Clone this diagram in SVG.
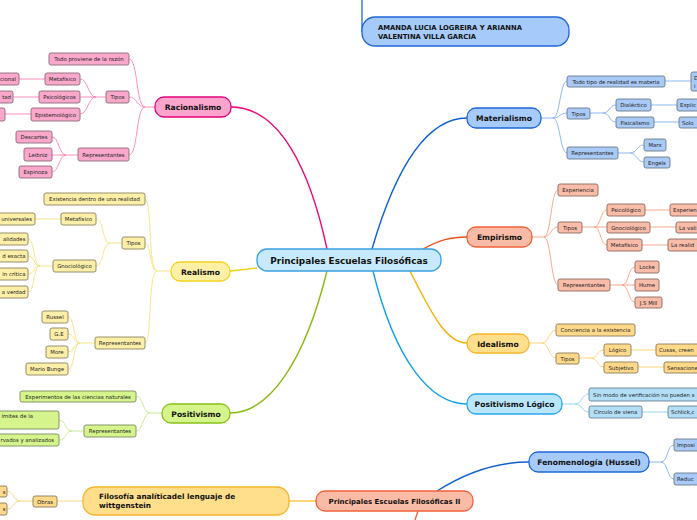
<svg xmlns="http://www.w3.org/2000/svg" width="697" height="520" viewBox="0 0 697 520">
<style>
text{font-family:"DejaVu Sans","Liberation Sans",sans-serif;fill:#222}
.s{font-size:5.4px;text-anchor:middle}
.se{font-size:5.4px;text-anchor:end}
.ss{font-size:5.4px;text-anchor:start}
.m{font-size:7.6px;font-weight:bold;text-anchor:middle;fill:#111}
.sn{stroke-width:0.9}
.mn{stroke-width:1.3}
.c path{fill:none}
.pk{fill:#f9a8cc;stroke:#8a6a78}
.yl{fill:#fdefa8;stroke:#8a8460}
.gr{fill:#d6f48c;stroke:#7a8a60}
.or{fill:#ffd98a;stroke:#8a7a5a}
.sa{fill:#f8bca8;stroke:#8a6a60}
.bl{fill:#a9c9f6;stroke:#6a7a8a}
.lb{fill:#b3def7;stroke:#6a8090}
.lpk{stroke:#ff80b8;stroke-width:0.9}
.lyl{stroke:#f6e27a;stroke-width:0.9}
.lgr{stroke:#c4e88a;stroke-width:0.9}
.lor{stroke:#ffd070;stroke-width:0.9}
.lsa{stroke:#f8a080;stroke-width:0.9}
.lbl{stroke:#80aef0;stroke-width:0.9}
.llb{stroke:#8ccdf0;stroke-width:0.9}
</style>
<rect width="697" height="520" fill="#ffffff"/>
<g id="connectors" class="c">
<path d="M362,0 L362,32" stroke="#1f66d6" stroke-width="1.3"/>
<path d="M327,249 C310,170 280,107 231,107" stroke="#ee0a78" stroke-width="1.4"/>
<path d="M372,249 C395,170 425,118 467,118" stroke="#1060d0" stroke-width="1.4"/>
<path d="M423,249 C440,240 450,237 467,237" stroke="#f05020" stroke-width="1.4"/>
<path d="M257,268 L230,271" stroke="#f0d000" stroke-width="1.4"/>
<path d="M327,271 C305,360 270,413 230,413" stroke="#88bb10" stroke-width="1.4"/>
<path d="M373,271 C395,360 430,404 467,404" stroke="#10a0f0" stroke-width="1.4"/>
<path d="M410,271 C430,310 445,343 467,343" stroke="#f8b000" stroke-width="1.4"/>
<path d="M289,501 L316,501" stroke="#f8c030" stroke-width="1.3"/>
<path d="M418,511 L415,520" stroke="#f06030" stroke-width="1.3"/>
<path d="M437,491 C470,470 500,462 529,462" stroke="#1060d0" stroke-width="1.4"/>
<!-- Racionalismo -->
<path class="lpk" d="M155,107 L145,107 C136,107 138,59 129,59 M145,107 C137,107 137,97 129,97 M145,107 C136,107 138,155 129,155"/>
<path class="lpk" d="M106,97 L96,97 C88,97 88,79 80,79 M96,97 L80,97 M96,97 C88,97 88,114 80,114"/>
<path class="lpk" d="M45,79 L19,79 M39,97 L13,97 M31,114 L5,114"/>
<path class="lpk" d="M78,155 L66,155 C59,155 59,137 52,137 M66,155 L52,155 M66,155 C59,155 59,172 52,172"/>
<!-- Realismo -->
<path class="lyl" d="M171,271 L157,271 C148,271 152,199 145,199 M157,271 C150,271 151,243 145,243 M157,271 C148,271 152,343 145,343"/>
<path class="lyl" d="M122,243 L110,243 C102,243 104,219 96,219 M110,243 C102,243 104,266 96,266"/>
<path class="lyl" d="M61,219 L35,219"/>
<path class="lyl" d="M53,266 L40,266 C33,266 35,239 28,239 M40,266 C33,266 35,256 28,256 M40,266 C33,266 35,274 28,274 M40,266 C33,266 35,292 28,292"/>
<path class="lyl" d="M95,343 L80,343 C73,343 75,317 68,317 M80,343 C73,343 75,334 68,334 M80,343 C73,343 75,352 68,352 M80,343 C73,343 75,369 68,369"/>
<!-- Positivismo -->
<path class="lgr" d="M162,413 L150,413 C143,413 143,396 136,396 M150,413 C143,413 143,431 136,431"/>
<path class="lgr" d="M84,431 L72,431 C65,431 66,420 59,420 M72,431 C65,431 66,440 59,440"/>
<!-- Filosofia -->
<path class="lor" d="M83,501 L57,501 M33,501 L20,501 C13,501 14,491 7,491 M20,501 C13,501 14,509 7,509"/>
<!-- Materialismo -->
<path class="lbl" d="M541,118 L553,118 C560,118 560,81 567,81 M553,118 C560,118 560,113 567,113 M553,118 C560,118 560,153 567,153"/>
<path class="lbl" d="M590,113 L603,113 C610,113 609,105 616,105 M603,113 C610,113 609,122 616,122"/>
<path class="lbl" d="M665,81 L691,81 M651,105 L677,105 M654,122 L679,122"/>
<path class="lbl" d="M618,153 L630,153 C637,153 637,145 644,145 M630,153 C637,153 637,162 644,162"/>
<!-- Empirismo -->
<path class="lsa" d="M532,237 L544,237 C551,237 551,190 558,190 M544,237 C551,237 551,227 558,227 M544,237 C551,237 551,285 558,285"/>
<path class="lsa" d="M582,227 L594,227 C601,227 600,210 607,210 M594,227 L607,227 M594,227 C601,227 600,245 607,245"/>
<path class="lsa" d="M645,210 L670,210 M650,227 L676,227 M642,245 L668,245"/>
<path class="lsa" d="M610,285 L622,285 C629,285 628,267 635,267 M622,285 L635,285 M622,285 C629,285 628,302 635,302"/>
<!-- Idealismo -->
<path class="lor" d="M529,343 L542,343 C549,343 549,330 556,330 M542,343 C549,343 549,358 556,358"/>
<path class="lor" d="M579,358 L591,358 C598,358 597,350 604,350 M591,358 C598,358 597,367 604,367"/>
<path class="lor" d="M631,350 L656,350 M638,367 L664,367"/>
<!-- Positivismo Logico -->
<path class="llb" d="M562,404 L575,404 C582,404 582,394 589,394 M575,404 C582,404 582,412 589,412"/>
<path class="llb" d="M642,412 L668,412"/>
<!-- Fenomenologia -->
<path class="lbl" d="M649,462 L661,462 C668,462 667,445 674,445 M661,462 C668,462 667,479 674,479"/>
</g>

<g id="center">
<rect x="257" y="249" width="184" height="22" rx="10" fill="#c6eafb" stroke="#3a9ee0" stroke-width="1.3"/>
<text x="349" y="263.5" class="m" style="font-size:8.9px">Principales Escuelas Filosóficas</text>
</g>

<g id="autores">
<rect x="362" y="17" width="207" height="29" rx="13" fill="#a6cbfa" stroke="#1f66d6" stroke-width="1.3"/>
<text x="378" y="30" style="font-size:6.8px;font-weight:bold;fill:#111">AMANDA LUCIA LOGREIRA Y ARIANNA</text>
<text x="378" y="39" style="font-size:6.8px;font-weight:bold;fill:#111">VALENTINA VILLA GARCIA</text>
</g>

<g id="racionalismo">
<rect x="155" y="97" width="76" height="20" rx="9" fill="#fba5cc" stroke="#e6007e" stroke-width="1.3"/>
<text x="193" y="110" class="m">Racionalismo</text>
</g>
<g id="rac-todo"><rect class="pk sn" x="49" y="53" width="80" height="12" rx="2"/><text class="s" x="89" y="61">Todo proviene de la razón</text></g>
<g id="rac-tipos"><rect class="pk sn" x="106" y="91" width="23" height="12" rx="2"/><text class="s" x="117.5" y="99">Tipos</text></g>
<g id="rac-rep"><rect class="pk sn" x="78" y="148" width="51" height="13" rx="2"/><text class="s" x="103.5" y="156.5">Representantes</text></g>
<g id="rac-met"><rect class="pk sn" x="45" y="73" width="35" height="12" rx="2"/><text class="s" x="62.5" y="81">Metafísico</text></g>
<g id="rac-psi"><rect class="pk sn" x="39" y="91" width="41" height="12" rx="2"/><text class="s" x="59.5" y="99">Psicológicos</text></g>
<g id="rac-epi"><rect class="pk sn" x="31" y="108" width="49" height="13" rx="2"/><text class="s" x="55.5" y="116.5">Epistemológico</text></g>
<g id="rac-met-c"><rect class="pk sn" x="-20" y="73" width="39" height="12" rx="2"/><text class="se" x="16" y="81">cional</text></g>
<g id="rac-psi-c"><rect class="pk sn" x="-20" y="91" width="33" height="12" rx="2"/><text class="se" x="11" y="99">tad</text></g>
<g id="rac-epi-c"><rect class="pk sn" x="-20" y="108" width="25" height="13" rx="2"/></g>
<g id="rac-desc"><rect class="pk sn" x="16" y="131" width="36" height="12" rx="2"/><text class="s" x="34" y="139">Descartes</text></g>
<g id="rac-leib"><rect class="pk sn" x="24" y="148" width="28" height="13" rx="2"/><text class="s" x="38" y="156.5">Leibniz</text></g>
<g id="rac-esp"><rect class="pk sn" x="19" y="166" width="33" height="12" rx="2"/><text class="s" x="35.5" y="174">Espinoza</text></g>

<g id="realismo">
<rect x="171" y="262" width="59" height="19" rx="9" fill="#fff0a8" stroke="#f2d41a" stroke-width="1.3"/>
<text x="200.5" y="274.5" class="m">Realismo</text>
</g>
<g id="rea-exis"><rect class="yl sn" x="44" y="193" width="101" height="12" rx="2"/><text class="s" x="94.5" y="201">Existencia dentro de una realidad</text></g>
<g id="rea-tipos"><rect class="yl sn" x="122" y="237" width="23" height="12" rx="2"/><text class="s" x="133.5" y="245">Tipos</text></g>
<g id="rea-met"><rect class="yl sn" x="61" y="213" width="35" height="12" rx="2"/><text class="s" x="78.5" y="221">Metafísico</text></g>
<g id="rea-univ"><rect class="yl sn" x="-10" y="213" width="45" height="12" rx="2"/><text class="se" x="32" y="221">universales</text></g>
<g id="rea-gno"><rect class="yl sn" x="53" y="260" width="43" height="12" rx="2"/><text class="s" x="74.5" y="268">Gnociológico</text></g>
<g id="rea-g1"><rect class="yl sn" x="-10" y="233" width="38" height="12" rx="2"/><text class="se" x="25.5" y="241">alidades</text></g>
<g id="rea-g2"><rect class="yl sn" x="-10" y="250" width="38" height="12" rx="2"/><text class="se" x="25.5" y="258">d exacta</text></g>
<g id="rea-g3"><rect class="yl sn" x="-10" y="268" width="38" height="12" rx="2"/><text class="se" x="25.5" y="276">in crítica</text></g>
<g id="rea-g4"><rect class="yl sn" x="-10" y="286" width="38" height="12" rx="2"/><text class="se" x="25.5" y="294">a verdad</text></g>
<g id="rea-rep"><rect class="yl sn" x="95" y="337" width="50" height="12" rx="2"/><text class="s" x="120" y="345">Representantes</text></g>
<g id="rea-russel"><rect class="yl sn" x="42" y="311" width="26" height="12" rx="2"/><text class="s" x="55" y="319">Russel</text></g>
<g id="rea-ge"><rect class="yl sn" x="50" y="328" width="18" height="12" rx="2"/><text class="s" x="59" y="336">G.E</text></g>
<g id="rea-more"><rect class="yl sn" x="46" y="346" width="22" height="12" rx="2"/><text class="s" x="57" y="354">More</text></g>
<g id="rea-bunge"><rect class="yl sn" x="26" y="363" width="42" height="12" rx="2"/><text class="s" x="47" y="371">Mario Bunge</text></g>

<g id="positivismo">
<rect x="162" y="404" width="68" height="19" rx="9" fill="#d6f48c" stroke="#8ac01a" stroke-width="1.3"/>
<text x="196" y="416.5" class="m">Positivismo</text>
</g>
<g id="pos-exp"><rect class="gr sn" x="20" y="391" width="116" height="11" rx="2"/><text class="s" x="78" y="398.5">Experimentos de las ciencias naturales</text></g>
<g id="pos-rep"><rect class="gr sn" x="84" y="425" width="52" height="12" rx="2"/><text class="s" x="110" y="433">Representantes</text></g>
<g id="pos-lim"><rect class="gr sn" x="-10" y="411" width="69" height="18" rx="2"/><text class="se" x="33" y="418">ímites de la</text></g>
<g id="pos-obs"><rect class="gr sn" x="-10" y="434" width="69" height="12" rx="2"/><text class="se" x="54" y="442">rvados y analizados</text></g>

<g id="filosofia">
<rect x="83" y="487" width="206" height="28" rx="12" fill="#ffdf8c" stroke="#f7b52c" stroke-width="1.3"/>
<text x="99" y="499" style="font-size:7.3px;font-weight:bold;fill:#111">Filosofía analíticadel lenguaje de</text>
<text x="99" y="508" style="font-size:7.3px;font-weight:bold;fill:#111">wittgenstein</text>
</g>
<g id="fil-obras"><rect class="or sn" x="33" y="496" width="24" height="11" rx="2"/><text class="s" x="45" y="503.5">Obras</text></g>
<g id="fil-o1"><rect class="or sn" x="-10" y="486" width="17" height="11" rx="2"/><text class="se" x="5.5" y="493.5">s</text></g>
<g id="fil-o2"><rect class="or sn" x="-10" y="503" width="17" height="12" rx="2"/><text class="se" x="5.5" y="511">s</text></g>

<g id="pef2">
<rect x="316" y="491" width="157" height="20" rx="9" fill="#f9bba6" stroke="#f0603a" stroke-width="1.3"/>
<text x="394.5" y="503.5" class="m" style="font-size:7px">Principales Escuelas Filosóficas II</text>
</g>

<g id="fenomenologia">
<rect x="529" y="452" width="120" height="20" rx="9" fill="#a6cbfa" stroke="#1f66d6" stroke-width="1.3"/>
<text x="589" y="464.5" class="m">Fenomenología (Hussel)</text>
</g>
<g id="fen-imp"><rect class="bl sn" x="674" y="439" width="30" height="12" rx="2"/><text class="ss" x="677" y="447">Imposi</text></g>
<g id="fen-red"><rect class="bl sn" x="674" y="473" width="30" height="12" rx="2"/><text class="ss" x="677" y="481">Reduc</text></g>

<g id="materialismo">
<rect x="467" y="108" width="74" height="20" rx="9" fill="#a6cbfa" stroke="#1f66d6" stroke-width="1.3"/>
<text x="504" y="120.5" class="m">Materialismo</text>
</g>
<g id="mat-todo"><rect class="bl sn" x="567" y="76" width="98" height="11" rx="2"/><text class="s" x="616" y="83.5">Todo tipo de realidad es materia</text></g>
<g id="mat-todo-c"><rect class="bl sn" x="691" y="72" width="20" height="19" rx="2"/><text class="ss" x="694" y="80">D</text><text class="ss" x="694" y="88">i</text></g>
<g id="mat-tipos"><rect class="bl sn" x="567" y="108" width="23" height="11" rx="2"/><text class="s" x="578.5" y="115.5">Tipos</text></g>
<g id="mat-dia"><rect class="bl sn" x="616" y="99" width="35" height="12" rx="2"/><text class="s" x="633.5" y="107">Dialéctico</text></g>
<g id="mat-dia-c"><rect class="bl sn" x="677" y="99" width="30" height="12" rx="2"/><text class="ss" x="680" y="107">Explic</text></g>
<g id="mat-fis"><rect class="bl sn" x="616" y="117" width="38" height="11" rx="2"/><text class="s" x="635" y="124.5">Fisicalismo</text></g>
<g id="mat-fis-c"><rect class="bl sn" x="679" y="117" width="30" height="11" rx="2"/><text class="ss" x="682" y="124.5">Solo</text></g>
<g id="mat-rep"><rect class="bl sn" x="567" y="147" width="51" height="12" rx="2"/><text class="s" x="592.5" y="155">Representantes</text></g>
<g id="mat-marx"><rect class="bl sn" x="644" y="139" width="22" height="12" rx="2"/><text class="s" x="655" y="147">Marx</text></g>
<g id="mat-engels"><rect class="bl sn" x="644" y="157" width="26" height="11" rx="2"/><text class="s" x="657" y="164.5">Engels</text></g>

<g id="empirismo">
<rect x="467" y="227" width="65" height="20" rx="9" fill="#f9bba6" stroke="#f0603a" stroke-width="1.3"/>
<text x="499.5" y="239.5" class="m">Empirismo</text>
</g>
<g id="emp-exp"><rect class="sa sn" x="558" y="184" width="40" height="12" rx="2"/><text class="s" x="578" y="192">Experiencia</text></g>
<g id="emp-tipos"><rect class="sa sn" x="558" y="222" width="24" height="11" rx="2"/><text class="s" x="570" y="229.5">Tipos</text></g>
<g id="emp-psi"><rect class="sa sn" x="607" y="204" width="38" height="12" rx="2"/><text class="s" x="626" y="212">Psicológico</text></g>
<g id="emp-psi-c"><rect class="sa sn" x="670" y="204" width="40" height="12" rx="2"/><text class="ss" x="673" y="212">Experien</text></g>
<g id="emp-gno"><rect class="sa sn" x="607" y="222" width="43" height="11" rx="2"/><text class="s" x="628.5" y="229.5">Gnociológico</text></g>
<g id="emp-gno-c"><rect class="sa sn" x="676" y="222" width="30" height="11" rx="2"/><text class="ss" x="679" y="229.5">La vali</text></g>
<g id="emp-met"><rect class="sa sn" x="607" y="239" width="35" height="12" rx="2"/><text class="s" x="624.5" y="247">Metafísico</text></g>
<g id="emp-met-c"><rect class="sa sn" x="668" y="239" width="40" height="12" rx="2"/><text class="ss" x="671" y="247">La realid</text></g>
<g id="emp-rep"><rect class="sa sn" x="558" y="279" width="52" height="12" rx="2"/><text class="s" x="584" y="287">Representantes</text></g>
<g id="emp-locke"><rect class="sa sn" x="635" y="261" width="24" height="12" rx="2"/><text class="s" x="647" y="269">Locke</text></g>
<g id="emp-hume"><rect class="sa sn" x="635" y="279" width="24" height="12" rx="2"/><text class="s" x="647" y="287">Hume</text></g>
<g id="emp-mill"><rect class="sa sn" x="635" y="297" width="27" height="11" rx="2"/><text class="s" x="648.5" y="304.5">J.S Mill</text></g>

<g id="idealismo">
<rect x="467" y="334" width="62" height="19" rx="9" fill="#ffdf8c" stroke="#f7b52c" stroke-width="1.3"/>
<text x="498" y="346.5" class="m">Idealismo</text>
</g>
<g id="ide-con"><rect class="or sn" x="556" y="324" width="79" height="12" rx="2"/><text class="s" x="595.5" y="332">Conciencia a la existencia</text></g>
<g id="ide-tipos"><rect class="or sn" x="556" y="353" width="23" height="11" rx="2"/><text class="s" x="567.5" y="360.5">Tipos</text></g>
<g id="ide-log"><rect class="or sn" x="604" y="344" width="27" height="12" rx="2"/><text class="s" x="617.5" y="352">Lógico</text></g>
<g id="ide-log-c"><rect class="or sn" x="656" y="344" width="50" height="12" rx="2"/><text class="ss" x="659" y="352">Cusas, creen</text></g>
<g id="ide-sub"><rect class="or sn" x="604" y="362" width="34" height="11" rx="2"/><text class="s" x="621" y="369.5">Subjetivo</text></g>
<g id="ide-sub-c"><rect class="or sn" x="664" y="362" width="40" height="11" rx="2"/><text class="ss" x="667" y="369.5">Sensacione</text></g>

<g id="poslogico">
<rect x="467" y="394" width="95" height="20" rx="9" fill="#b9e6fb" stroke="#2aa6ee" stroke-width="1.3"/>
<text x="514.5" y="406.5" class="m">Positivismo Lógico</text>
</g>
<g id="pl-sin"><rect class="lb sn" x="589" y="388" width="120" height="13" rx="2"/><text class="ss" x="593" y="396.5">Sin modo de verificación no pueden s</text></g>
<g id="pl-cir"><rect class="lb sn" x="589" y="406" width="53" height="12" rx="2"/><text class="s" x="615.5" y="414">Circulo de viena</text></g>
<g id="pl-cir-c"><rect class="lb sn" x="668" y="406" width="40" height="12" rx="2"/><text class="ss" x="671" y="414">Schlick,c</text></g>
</svg>
